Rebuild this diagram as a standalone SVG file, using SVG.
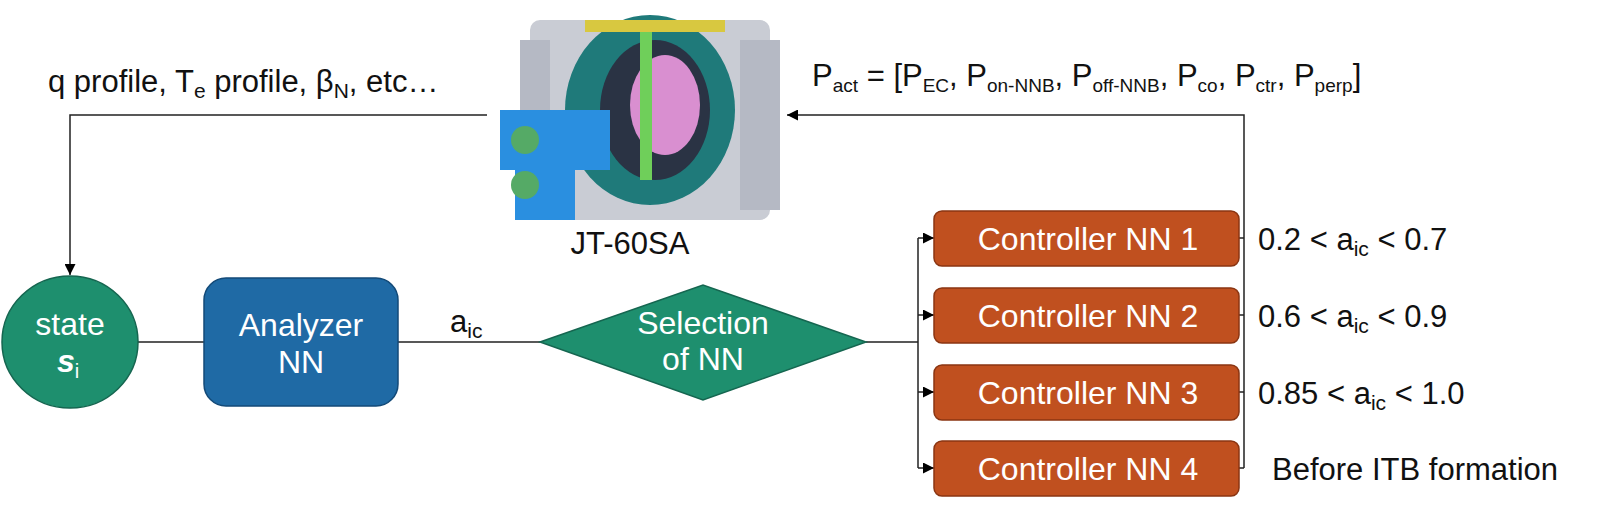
<svg xmlns="http://www.w3.org/2000/svg" width="1600" height="510" viewBox="0 0 1600 510">
<style>
text{font-family:"Liberation Sans",Arial,sans-serif;}
.w{fill:#fff;font-size:32px;text-anchor:middle}
.k{fill:#111;font-size:31px}
.ctl{fill:#c0501f;stroke:#8a3512;stroke-width:1.5}
.ln{fill:none;stroke:#222;stroke-width:1.5}
</style>
<defs><marker id="a" viewBox="0 0 10 10" refX="10" refY="5" markerWidth="11" markerHeight="11" markerUnits="userSpaceOnUse" orient="auto"><path d="M0,0L10,5L0,10z" fill="#000"/></marker></defs>
<g id="connectors">
<path class="ln" d="M487,115H70V275" marker-end="url(#a)"/>
<path class="ln" d="M1239,238H1244M1239,315H1244M1239,392H1244M1239,468H1244M1244,468V115H787" marker-end="url(#a)"/>
<path class="ln" d="M138,342H204M398,342H540M866,342H918"/>
<path class="ln" d="M918,238V468"/>
<path class="ln" d="M918,238H934" marker-end="url(#a)"/>
<path class="ln" d="M918,315H934" marker-end="url(#a)"/>
<path class="ln" d="M918,392H934" marker-end="url(#a)"/>
<path class="ln" d="M918,468H934" marker-end="url(#a)"/>
</g>
<g id="jt60sa">
<rect x="530" y="20" width="240" height="200" rx="10" fill="#c9ccd4"/>
<rect x="520" y="40" width="30" height="170" fill="#b5b9c4"/>
<rect x="740" y="40" width="40" height="170" fill="#b5b9c4"/>
<ellipse cx="650" cy="110" rx="85" ry="95" fill="#1f7a7a"/>
<ellipse cx="655" cy="110" rx="55" ry="70" fill="#2a3344"/>
<ellipse cx="665" cy="105" rx="35" ry="50" fill="#d98fd0"/>
<rect x="640" y="30" width="12" height="150" fill="#6fcf5a"/>
<rect x="585" y="20" width="140" height="12" fill="#d8c840"/>
<rect x="500" y="110" width="110" height="60" fill="#2a8fe0"/>
<rect x="515" y="160" width="60" height="60" fill="#2a8fe0"/>
<circle cx="525" cy="140" r="14" fill="#5a6"/>
<circle cx="525" cy="185" r="14" fill="#5a6"/>
<text x="630" y="254" class="k" text-anchor="middle">JT-60SA</text>
</g>
<g id="state"><ellipse cx="70" cy="342" rx="68" ry="66" fill="#1e8f6e" stroke="#156650" stroke-width="1.5"/>
<text x="70" y="335" class="w">state</text><text x="68" y="372" class="w" font-weight="bold" font-style="italic">s<tspan font-size="20" font-weight="normal" font-style="normal" dy="6">i</tspan></text></g>
<g id="analyzer"><rect x="204" y="278" width="194" height="128" rx="22" fill="#1f6aa5" stroke="#134a78" stroke-width="1.5"/>
<text x="301" y="336" class="w">Analyzer</text><text x="301" y="373" class="w">NN</text></g>
<text x="450" y="332" class="k">a<tspan font-size="21" dy="6">ic</tspan></text>
<g id="selection"><polygon points="540,342 703,285 866,342 703,400" fill="#1e8f6e" stroke="#156650" stroke-width="1.5"/>
<text x="703" y="334" class="w">Selection</text><text x="703" y="370" class="w">of NN</text></g>
<g id="c1"><rect class="ctl" x="934" y="211" width="305" height="55" rx="8"/><text x="1088" y="250" class="w">Controller NN 1</text></g>
<g id="c2"><rect class="ctl" x="934" y="288" width="305" height="55" rx="8"/><text x="1088" y="327" class="w">Controller NN 2</text></g>
<g id="c3"><rect class="ctl" x="934" y="365" width="305" height="55" rx="8"/><text x="1088" y="404" class="w">Controller NN 3</text></g>
<g id="c4"><rect class="ctl" x="934" y="441" width="305" height="55" rx="8"/><text x="1088" y="480" class="w">Controller NN 4</text></g>
<text x="1258" y="250" class="k">0.2 &lt; a<tspan font-size="21" dy="6">ic</tspan><tspan dy="-6"> &lt; 0.7</tspan></text>
<text x="1258" y="327" class="k">0.6 &lt; a<tspan font-size="21" dy="6">ic</tspan><tspan dy="-6"> &lt; 0.9</tspan></text>
<text x="1258" y="404" class="k">0.85 &lt; a<tspan font-size="21" dy="6">ic</tspan><tspan dy="-6"> &lt; 1.0</tspan></text>
<text x="1272" y="480" class="k">Before ITB formation</text>
<text x="48" y="92" class="k">q profile, T<tspan font-size="21" dy="6">e</tspan><tspan dy="-6"> profile, β</tspan><tspan font-size="21" dy="6">N</tspan><tspan dy="-6">, etc…</tspan></text>
<text x="812" y="86" class="k" font-size="28">P<tspan font-size="19" dy="6">act</tspan><tspan dy="-6"> = [P</tspan><tspan font-size="19" dy="6">EC</tspan><tspan dy="-6">, P</tspan><tspan font-size="19" dy="6">on-NNB</tspan><tspan dy="-6">, P</tspan><tspan font-size="19" dy="6">off-NNB</tspan><tspan dy="-6">, P</tspan><tspan font-size="19" dy="6">co</tspan><tspan dy="-6">, P</tspan><tspan font-size="19" dy="6">ctr</tspan><tspan dy="-6">, P</tspan><tspan font-size="19" dy="6">perp</tspan><tspan dy="-6">]</tspan></text>
</svg>
